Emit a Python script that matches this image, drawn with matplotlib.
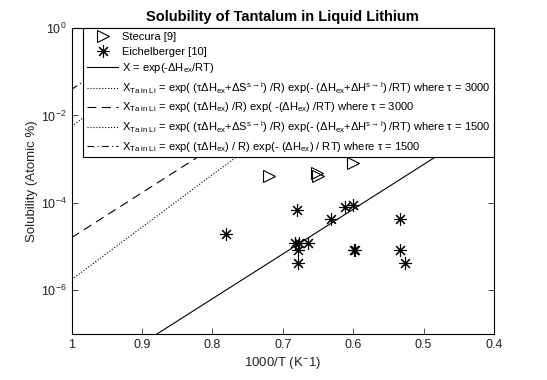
import numpy as np
import matplotlib
matplotlib.use("Agg")
import matplotlib.pyplot as plt

plt.rcParams["font.family"] = ["Liberation Sans", "DejaVu Sans"]
plt.rcParams["mathtext.default"] = "regular"
plt.rcParams["mathtext.fontset"] = "custom"
plt.rcParams["mathtext.rm"] = "Liberation Sans"
plt.rcParams["mathtext.it"] = "Liberation Sans"

# ── data ──
stecura_x = [0.720, 0.652, 0.650, 0.600]
stecura_y = [4.0e-4, 4.8e-4, 4.1e-4, 8.0e-4]

eich_x = [0.781, 0.680, 0.682, 0.677, 0.664, 0.678, 0.678,
          0.632, 0.611, 0.600, 0.599, 0.597, 0.533, 0.533, 0.527]
eich_y = [1.9e-5, 6.8e-5, 1.2e-5, 1.2e-5, 1.2e-5, 8.3e-6, 4.1e-6,
          4.2e-5, 7.9e-5, 8.9e-5, 8.3e-6, 8.3e-6, 4.2e-5, 8.3e-6, 4.1e-6]

# model lines: straight in log space, endpoints at 1000/T = 1.0 and 0.4
line_x = [1.0, 0.4]
solid_y    = [10**-8.25, 10**-2.10]
dot3000_y  = [10**-5.76, 10**1.44]
dash3000_y = [10**-4.80, 10**1.38]
dot1500_y  = [10**-2.25, 10**4.95]
dd1500_y   = [10**-1.40, 10**4.78]

labels = [
    "Stecura [9]",
    "Eichelberger [10]",
    r"X = exp(-ΔH$_{ex}$/RT)",
    r"X$_{Ta\ in\ Li}$ = exp( (τΔH$_{ex}$+ΔS$^{s\rightarrow l}$) /R) exp(- (ΔH$_{ex}$+ΔH$^{s\rightarrow l}$) /RT) where τ = 3000",
    r"X$_{Ta\ in\ Li}$ = exp( (τΔH$_{ex}$) /R) exp( -(ΔH$_{ex}$) /RT) where τ = 3000",
    r"X$_{Ta\ in\ Li}$ = exp( (τΔH$_{ex}$+ΔS$^{s\rightarrow l}$) /R) exp(- (ΔH$_{ex}$+ΔH$^{s\rightarrow l}$) /RT) where τ = 1500",
    r"X$_{Ta\ in\ Li}$ = exp( (τΔH$_{ex}$) / R) exp(- (ΔH$_{ex}$) / RT) where τ = 1500",
]

fig = plt.figure(figsize=(5.47, 3.80), dpi=100)
ax = fig.add_axes([0.131, 0.122, 0.772, 0.804])

ax.plot(stecura_x, stecura_y, linestyle="none", marker=">", markersize=8,
        markerfacecolor="none", markeredgecolor="black", markeredgewidth=0.8, label=labels[0])
ax.plot(eich_x, eich_y, linestyle="none", marker=(8, 2, 0), markersize=9,
        color="black", markeredgewidth=0.8, label=labels[1])
ax.plot(line_x, solid_y, "k-", lw=0.8, label=labels[2])
ax.plot(line_x, dot3000_y, "k:", lw=0.8, label=labels[3])
ax.plot(line_x, dash3000_y, "k", ls=(0, (8, 5)), lw=0.8, label=labels[4])
ax.plot(line_x, dot1500_y, "k:", lw=0.8, label=labels[5])
ax.plot(line_x, dd1500_y, "k", ls=(0, (6, 3, 1, 3)), lw=0.8, label=labels[6])

ax.set_yscale("log")
ax.set_xlim(1, 0.4)
ax.set_ylim(1e-7, 1)
ax.set_xticks([1, 0.9, 0.8, 0.7, 0.6, 0.5, 0.4])
ax.set_xticklabels(["1", "0.9", "0.8", "0.7", "0.6", "0.5", "0.4"])
ax.set_yticks([1e0, 1e-2, 1e-4, 1e-6])
ax.set_yticklabels([r"10$^{0}$", r"10$^{-2}$", r"10$^{-4}$", r"10$^{-6}$"])
ax.minorticks_off()
ax.tick_params(direction="in", top=True, right=True, labelsize=9, length=4,
               width=0.6, colors="#333333", labelcolor="#222222")
for s in ax.spines.values():
    s.set_linewidth(0.8)

ax.set_xlabel(r"1000/T (K$^{-}$1)", fontsize=9.5, color="#222222", labelpad=3)
ax.set_ylabel("Solubility (Atomic %)", fontsize=9.5, color="#222222", labelpad=2)
ax.set_title("Solubility of Tantalum in Liquid Lithium", fontsize=10.5,
             fontweight="bold", pad=5)

leg = ax.legend(loc="upper right", fontsize=8, frameon=True, fancybox=False,
                framealpha=1, edgecolor="black", borderaxespad=0, handlelength=2.8,
                handletextpad=0.3, labelspacing=0.42, borderpad=0.35)
leg.get_frame().set_linewidth(0.8)

plt.savefig("out.png", dpi=100)
